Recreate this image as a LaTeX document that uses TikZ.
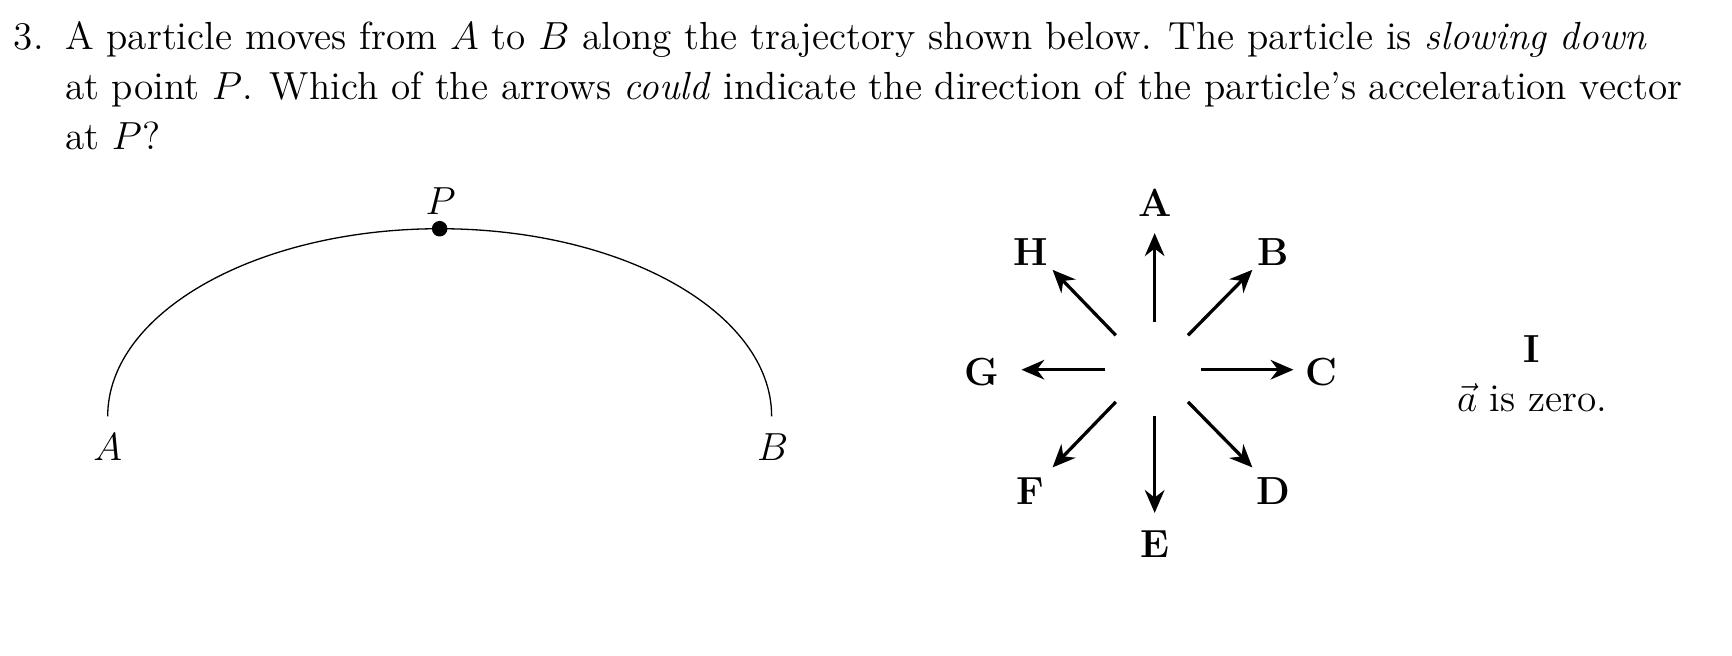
\documentclass[tikz,border=0pt,12pt]{standalone}
\usetikzlibrary{arrows.meta}
\begin{document}
\begin{tikzpicture}[x=0.34pt,y=-0.34pt,
  txt/.style={anchor=base west,inner sep=0pt},
  vec/.style={line width=1pt,-{Stealth[length=7pt,width=6pt]}},
  lbl/.style={font=\bfseries,inner sep=0pt}]
\useasboundingbox (0,0) rectangle (1560,590);
\node[txt] (n3) at (12,45) {3.};
\node[txt] (l1) at (58,45) {A particle moves from $A$ to $B$ along the trajectory shown below. The particle is \textit{slowing down}};
\node[txt] (l2) at (58,90) {at point $P$. Which of the arrows \textit{could} indicate the direction of the particle's acceleration vector};
\node[txt] (l3) at (58,135) {at $P$?};
% trajectory
\draw[line width=0.4pt] (97,375) arc[start angle=180,end angle=360,x radius=299,y radius=169];
\fill (396,206) circle[radius=7];
\node (pA) at (97,403) {$A$};
\node (pB) at (696,403) {$B$};
\node (pP) at (397,181) {$P$};
% arrows
\coordinate (a0) at (1040,290); \coordinate (a1) at (1040,210);
\coordinate (e0) at (1040,375); \coordinate (e1) at (1040,462);
\coordinate (c0) at (1082,333); \coordinate (c1) at (1165,333);
\coordinate (g0) at (995,333); \coordinate (g1) at (920,333);
\coordinate (b0) at (1070,302); \coordinate (b1) at (1128,243);
\coordinate (h0) at (1005,302); \coordinate (h1) at (948,243);
\coordinate (d0) at (1070,362); \coordinate (d1) at (1128,421);
\coordinate (f0) at (1005,362); \coordinate (f1) at (948,421);
\foreach \s in {a,e,c,g,b,h,d,f} \draw[vec] (\s0) -- (\s1);
\node[lbl] (LA) at (1040,183) {A};
\node[lbl] (LE) at (1040,490) {E};
\node[lbl] (LC) at (1190,335) {C};
\node[lbl] (LG) at (884,335) {G};
\node[lbl] (LB) at (1147,227) {B};
\node[lbl] (LH) at (928,227) {H};
\node[lbl] (LD) at (1147,442) {D};
\node[lbl] (LF) at (928,442) {F};
\node[lbl] (LI) at (1380,314) {I};
\node (zero) at (1380,358) {$\vec{a}$ is zero.};
\end{tikzpicture}
\end{document}
